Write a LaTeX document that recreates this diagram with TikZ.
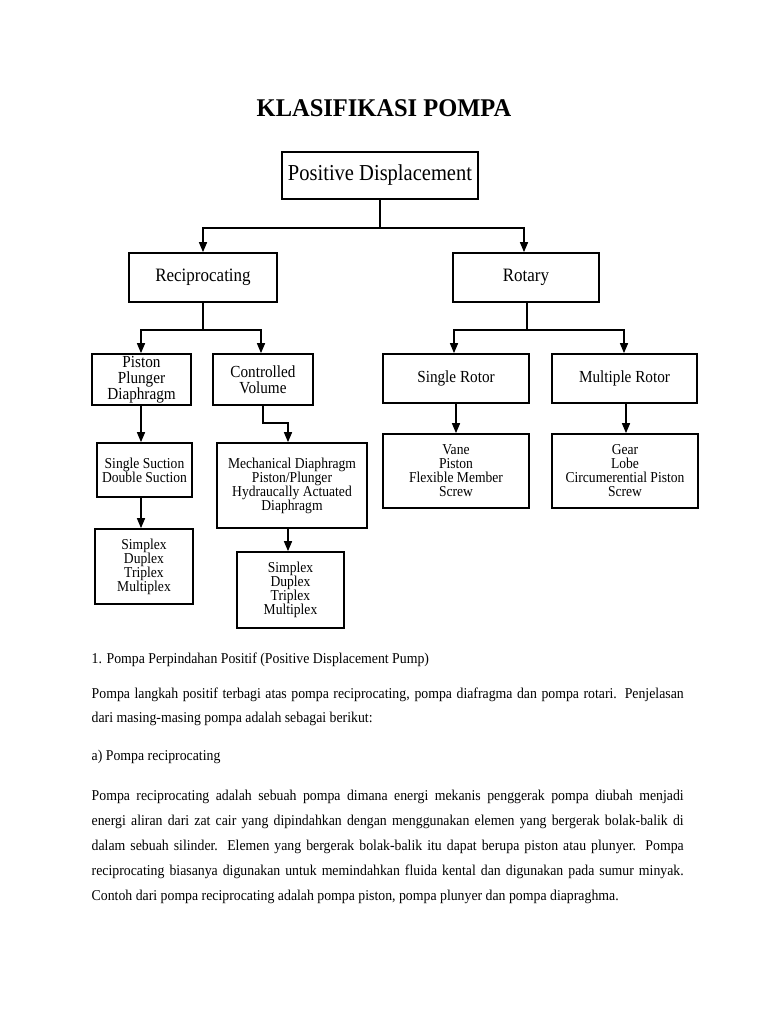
\documentclass[tikz,border=0pt]{standalone}
\usepackage{fontspec}
\setmainfont{Liberation Serif}
\newfontfamily\bodyfont[FakeStretch=0.92]{Liberation Serif}
\newfontfamily\diafont[FakeStretch=0.9]{Liberation Serif}
\newfontfamily\titlefont[FakeStretch=0.96]{Liberation Serif}
\usetikzlibrary{arrows.meta}
\tikzset{
  box/.style={draw=black, line width=1.7pt, fill=white, align=center, inner sep=1pt},
  lvA/.style={box, font=\diafont\fontsize{22.8}{24}\selectfont},
  lvB/.style={box, font=\diafont\fontsize{18.9}{20}\selectfont},
  lvC/.style={box, font=\diafont\fontsize{16.9}{16.2}\selectfont},
  lvD/.style={box, font=\diafont\fontsize{15.1}{14}\selectfont},
  conn/.style={draw=black, line width=1.5pt},
  arr/.style={conn, -{Triangle[length=10pt,width=8pt]}},
  bodyline/.style={anchor=base west, inner sep=0pt, font=\bodyfont\fontsize{15}{25}\selectfont},
}
\newcommand{\jline}[1]{\makebox[592pt][s]{#1}}
\begin{document}
\begin{tikzpicture}[x=1pt,y=-1pt]
\fill[white] (0,0) rectangle (768,1024);
\useasboundingbox (0,0) rectangle (768,1024);

% title
\node[anchor=base, inner sep=0pt, font=\titlefont\bfseries\fontsize{25.5}{28}\selectfont] (title) at (384,117) {KLASIFIKASI POMPA};

% boxes
\node[lvA, minimum width=196pt, minimum height=47pt] (pd) at (380,175.5) {Positive Displacement};
\node[lvB, minimum width=148pt, minimum height=49pt] (rec) at (203,277.5) {Reciprocating};
\node[lvB, minimum width=146pt, minimum height=49pt] (rot) at (526,277.5) {Rotary};
\node[lvC, minimum width=99pt, minimum height=51pt] (ppd) at (141.5,379.5) {Piston\\Plunger\\Diaphragm};
\node[lvC, minimum width=100pt, minimum height=51pt] (cv) at (263,379.5) {Controlled\\Volume};
\node[lvC, minimum width=146pt, minimum height=49pt] (sr) at (456,378.5) {Single Rotor};
\node[lvC, minimum width=145pt, minimum height=49pt] (mr) at (624.5,378.5) {Multiple Rotor};
\node[lvD, minimum width=95pt, minimum height=54pt] (ss) at (144.5,470) {Single Suction\\Double Suction};
\node[lvD, minimum width=98pt, minimum height=75pt] (sx1) at (144,566.5) {Simplex\\Duplex\\Triplex\\Multiplex};
\node[lvD, minimum width=150pt, minimum height=85pt] (mech) at (292,485.5) {Mechanical Diaphragm\\Piston/Plunger\\Hydraucally Actuated\\Diaphragm};
\node[lvD, minimum width=107pt, minimum height=76pt] (sx2) at (290.5,590) {Simplex\\Duplex\\Triplex\\Multiplex};
\node[lvD, minimum width=146pt, minimum height=74pt] (vane) at (456,471) {Vane\\Piston\\Flexible Member\\Screw};
\node[lvD, minimum width=146pt, minimum height=74pt] (gear) at (625,471) {Gear\\Lobe\\Circumerential Piston\\Screw};

% connectors
\coordinate (j1) at (380,228);
\draw[conn] (pd.south) -- (j1);
\draw[arr] (j1) -| (rec.north);
\draw[arr] (j1) -| ([xshift=-2pt]rot.north);

\coordinate (j2) at (203,330);
\draw[conn] (rec.south) -- (j2);
\draw[arr] (j2) -| ([xshift=-0.5pt]ppd.north);
\draw[arr] (j2) -| ([xshift=-2pt]cv.north);

\coordinate (j3) at (527,330);
\draw[conn] (rot.south -| j3) -- (j3);
\draw[arr] (j3) -| ([xshift=-2pt]sr.north);
\draw[arr] (j3) -| ([xshift=-0.5pt]mr.north);

\coordinate (cA) at (141,405);
\draw[arr] (ppd.south -| cA) -- (ss.north -| cA);
\draw[arr] (ss.south -| cA) -- (sx1.north -| cA);

\coordinate (cvk) at (288,423);
\draw[arr] (cv.south) |- (cvk) -- (mech.north -| cvk);
\draw[arr] (mech.south -| cvk) -- (sx2.north -| cvk);

\draw[arr] (sr.south) -- (vane.north -| sr.south);
\coordinate (cM) at (626,403);
\draw[arr] (mr.south -| cM) -- (gear.north -| cM);

% body text
\node[bodyline] (t1) at (91.5,663) {1. Pompa Perpindahan Positif (Positive Displacement Pump)};
\node[bodyline] (t2) at (91.5,698) {\jline{Pompa langkah positif terbagi atas pompa reciprocating, pompa diafragma dan pompa rotari. Penjelasan}};
\node[bodyline] (t3) at (91.5,722.5) {dari masing-masing pompa adalah sebagai berikut:};
\node[bodyline] (t4) at (91.5,760) {a) Pompa reciprocating};
\node[bodyline] (t5) at (91.5,800) {\jline{Pompa reciprocating adalah sebuah pompa dimana energi mekanis penggerak pompa diubah menjadi}};
\node[bodyline] (t6) at (91.5,825) {\jline{energi aliran dari zat cair yang dipindahkan dengan menggunakan elemen yang bergerak bolak-balik di}};
\node[bodyline] (t7) at (91.5,850) {\jline{dalam sebuah silinder. Elemen yang bergerak bolak-balik itu dapat berupa piston atau plunyer. Pompa}};
\node[bodyline] (t8) at (91.5,875) {\jline{reciprocating biasanya digunakan untuk memindahkan fluida kental dan digunakan pada sumur minyak.}};
\node[bodyline] (t9) at (91.5,900) {Contoh dari pompa reciprocating adalah pompa piston, pompa plunyer dan pompa diapraghma.};
\end{tikzpicture}
\end{document}
